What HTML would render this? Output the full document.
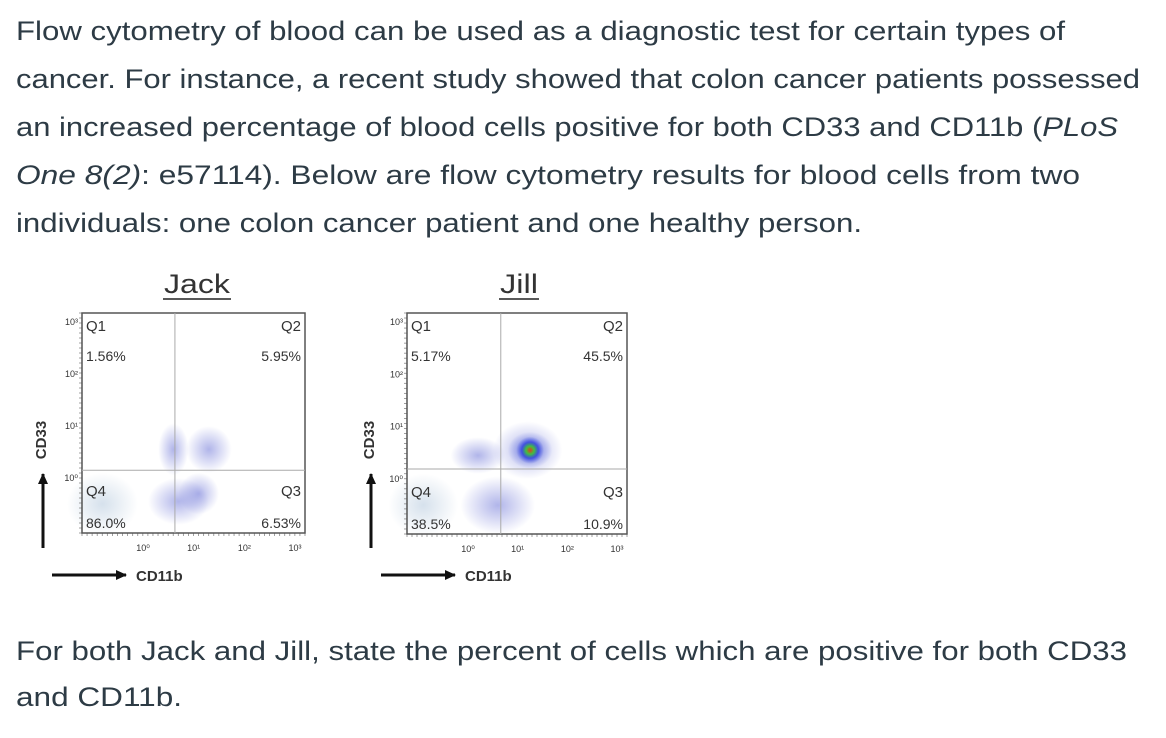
<!DOCTYPE html>
<html><head><meta charset="utf-8"><style>
html,body{margin:0;padding:0;background:#fff;width:1166px;height:738px;overflow:hidden}
svg{display:block}
.p{font-family:"Liberation Sans",sans-serif;font-size:27px;fill:#2d3b45}
.a{font-family:"Liberation Sans",sans-serif;fill:#333}
</style></head><body>
<svg id="s" width="1166" height="738">
<g>
<text class="p" x="16" y="40" textLength="1049" lengthAdjust="spacingAndGlyphs">Flow cytometry of blood can be used as a diagnostic test for certain types of</text>
<text class="p" x="16" y="88" textLength="1124" lengthAdjust="spacingAndGlyphs">cancer.  For instance, a recent study showed that colon cancer patients possessed</text>
<text class="p" x="16" y="136" textLength="1102" lengthAdjust="spacingAndGlyphs">an increased percentage of blood cells positive for both CD33 and CD11b (<tspan font-style="italic">PLoS</tspan></text>
<text class="p" x="16" y="184" textLength="1064" lengthAdjust="spacingAndGlyphs"><tspan font-style="italic">One 8(2)</tspan>: e57114).  Below are flow cytometry results for blood cells from two</text>
<text class="p" x="16" y="232" textLength="846" lengthAdjust="spacingAndGlyphs">individuals:  one colon cancer patient and one healthy person.</text>
</g>
<g>
<text class="p" x="16" y="660" textLength="1111" lengthAdjust="spacingAndGlyphs">For both Jack and Jill, state the percent of cells which are positive for both CD33</text>
<text class="p" x="16" y="706" textLength="166" lengthAdjust="spacingAndGlyphs">and CD11b.</text>
</g>
<defs>
<radialGradient id="gb"><stop offset="0" stop-color="#7078d8" stop-opacity=".55"/><stop offset="1" stop-color="#7078d8" stop-opacity="0"/></radialGradient>
<radialGradient id="gd"><stop offset="0" stop-color="#4858d8" stop-opacity=".8"/><stop offset="1" stop-color="#5060e0" stop-opacity="0"/></radialGradient>
<radialGradient id="gl"><stop offset="0" stop-color="#c4d4e4" stop-opacity=".7"/><stop offset="1" stop-color="#c4d4e4" stop-opacity="0"/></radialGradient>
<radialGradient id="gh"><stop offset="0" stop-color="#e04020"/><stop offset=".3" stop-color="#40c040"/><stop offset=".6" stop-color="#3040e0" stop-opacity=".8"/><stop offset="1" stop-color="#5060e0" stop-opacity="0"/></radialGradient>
<marker id="ar" markerUnits="userSpaceOnUse" markerWidth="12" markerHeight="12" refX="10" refY="6" orient="auto"><path d="M0,1 L11,6 L0,11 Z" fill="#111"/></marker>
</defs>
</svg>
<script>
// Data
const panelNames = ['Jack','Jill'];
const quadrantLabels = ['Q1','Q2','Q3','Q4'];
const jackPercents = ['1.56%','5.95%','6.53%','86.0%'];
const jillPercents = ['5.17%','45.5%','10.9%','38.5%'];
const xTickLabels = [0,1,2,3];
const yTickLabels = [0,1,2,3];
// clusters: [log x, log y, log rx, log ry, kind]
const jackClusters = [[-0.8,-0.5,0.7,0.6,'gl'],[1.3,0.55,0.45,0.45,'gb'],[0.6,0.55,0.3,0.5,'gb'],[0.7,-0.45,0.6,0.45,'gb'],[1.1,-0.3,0.4,0.4,'gb']];
const jillClusters = [[-0.9,-0.5,0.7,0.6,'gl'],[0.6,-0.5,0.75,0.55,'gb'],[0.2,0.45,0.55,0.35,'gb'],[1.2,0.55,0.7,0.55,'gb'],[1.25,0.55,0.45,0.35,'gd'],[1.25,0.55,0.28,0.26,'gh']];
const gates = [[0.63,0.15],[0.66,0.19]];

const svg=document.getElementById('s');const NS='http://www.w3.org/2000/svg';
function mk(t,a,p){const e=document.createElementNS(NS,t);for(const k in a)e.setAttribute(k,a[k]);(p||svg).appendChild(e);return e;}
const panels=[{x0:82,x1:305,y0:313,y1:533,tx:197,data:jackPercents,cl:jackClusters,lx:40,ax:52},
              {x0:407,x1:627,y0:313,y1:534,tx:519,data:jillPercents,cl:jillClusters,lx:368,ax:381}];
panels.forEach((P,i)=>{
  const xs=v=>P.x0+61+v*(P.x1-P.x0-71)/3;
  const ys=v=>P.y1-55+(-v)*(P.y1-P.y0-64)/3;
  const g=mk('g',{});
  
  
  const t=mk('text',{x:P.tx,y:293,'text-anchor':'middle','font-size':27,class:'a',fill:'#222',textLength:i?38:66,lengthAdjust:'spacingAndGlyphs'},g);t.textContent=panelNames[i];
  
  
  mk('line',{x1:P.tx-(i?20:34),x2:P.tx+(i?20:34),y1:299,y2:299,stroke:'#222','stroke-width':1.5},g);
  const cg=mk('g',{},g);
  P.cl.forEach(c=>{const el=mk('ellipse',{cx:xs(c[0]),cy:ys(c[1]),rx:c[2]*(P.x1-P.x0-71)/3,ry:c[3]*(P.y1-P.y0-64)/3,fill:'url(#'+c[4]+')'},cg);
    
    });
  for(let k=0;k<=44;k++){mk('line',{x1:P.x0+k*(P.x1-P.x0)/44,x2:P.x0+k*(P.x1-P.x0)/44,y1:P.y1,y2:P.y1+3,stroke:'#888','stroke-width':0.8},g);
    mk('line',{x1:P.x0-3,x2:P.x0,y1:P.y0+k*(P.y1-P.y0)/44,y2:P.y0+k*(P.y1-P.y0)/44,stroke:'#888','stroke-width':0.8},g);}
  const b=mk('rect',{x:P.x0,y:P.y0,width:P.x1-P.x0,height:P.y1-P.y0,fill:'none',stroke:'#555','stroke-width':1.5},g);
  
  
  const gx=xs(gates[i][0]), gy=ys(gates[i][1]);
  mk('line',{x1:gx,x2:gx,y1:P.y0,y2:P.y1,stroke:'#aaa'},g);
  mk('line',{x1:P.x0,x2:P.x1,y1:gy,y2:gy,stroke:'#aaa'},g);
  const pos=[[P.x0+4,P.y0+18,'start'],[P.x1-4,P.y0+18,'end'],[P.x1-4,P.y1-37,'end'],[P.x0+4,P.y1-37,'start']];
  quadrantLabels.forEach((q,k)=>{
    const a=mk('text',{x:pos[k][0],y:pos[k][1],'text-anchor':pos[k][2],'font-size':15,class:'a'},g);a.textContent=q;
    const yy=k<2?pos[k][1]+30:P.y1-5;
    const b2=mk('text',{x:pos[k][0],y:yy,'text-anchor':pos[k][2],'font-size':14,class:'a'},g);b2.textContent=P.data[k];
    
    
  });
  xTickLabels.forEach(v=>{const t2=mk('text',{x:xs(v),y:P.y1+18,'text-anchor':'middle','font-size':9,class:'a',fill:'#777'},g);t2.textContent='10'+['⁰','¹','²','³'][v];});
  yTickLabels.forEach(v=>{const t2=mk('text',{x:P.x0-4,y:ys(v)+3,'text-anchor':'end','font-size':9,class:'a',fill:'#777'},g);t2.textContent='10'+['⁰','¹','²','³'][v];});
  const yl=mk('text',{x:P.lx,y:440,transform:`rotate(-90 ${P.lx} 440)`,'text-anchor':'middle','font-size':15,'font-weight':'bold',class:'a',fill:'#222',dy:6},g);yl.textContent='CD33';
  
  
  mk('line',{x1:P.lx+3,x2:P.lx+3,y1:548,y2:474,stroke:'#111','stroke-width':3,'marker-end':'url(#ar)'},g);
  mk('line',{x1:P.ax,x2:P.ax+74,y1:575,y2:575,stroke:'#111','stroke-width':3,'marker-end':'url(#ar)'},g);
  const xl=mk('text',{x:P.ax+84,y:581,'font-size':15,'font-weight':'bold',class:'a',fill:'#222'},g);xl.textContent='CD11b';
  
  
});
</script>
</body></html>
